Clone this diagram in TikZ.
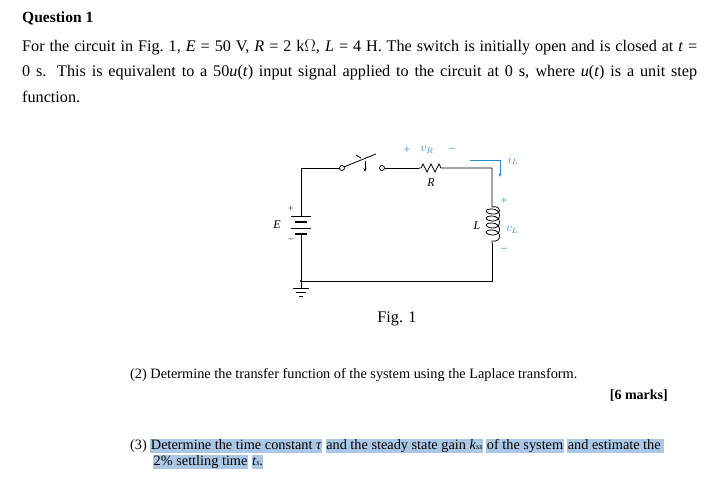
\documentclass[tikz,border=0pt]{standalone}
\usepackage{fontspec}
\setmainfont{Liberation Serif}
\usetikzlibrary{arrows.meta,calc}
\definecolor{blu}{RGB}{40,140,200}
\definecolor{hl}{RGB}{170,200,230}
\newcommand{\hlb}[1]{{\setlength{\fboxsep}{0.5pt}\colorbox{hl}{\rule[-3pt]{0pt}{13pt}#1}}}
\begin{document}
\begin{tikzpicture}[x=1pt,y=-1pt,
  txt/.style={anchor=north west,inner sep=0pt,font=\fontsize{16.2}{25.5}\selectfont},
  wire/.style={line width=0.8pt},
  lab/.style={font=\fontsize{12}{14}\selectfont\itshape},
  blab/.style={font=\fontsize{12}{14}\selectfont,text=blu}]
\useasboundingbox (0,0) rectangle (718,487);
\fill[white] (0,0) rectangle (718,487);
\node[txt,font=\fontsize{15.5}{18}\bfseries] (q) at (22,12) {Question 1};
\node[txt,text width=675pt,align=justify] (p) at (22,39) {For the circuit in Fig.~1, \textit{E} = 50 V, \textit{R} = 2 k$\Omega$, \textit{L} = 4 H. The switch is initially open and is closed at \textit{t} =\linebreak 0 s. This is equivalent to a 50\textit{u}(\textit{t}) input signal applied to the circuit at 0 s, where \textit{u}(\textit{t}) is a unit step\linebreak function.};
% circuit
\coordinate (tl) at (301,168); \coordinate (tr) at (492,168);
\coordinate (bl) at (301,281); \coordinate (br) at (492,281);
\coordinate (s1) at (342,168); \coordinate (s2) at (382,168);
\coordinate (r1) at (419,168); \coordinate (r2) at (443,168);
\coordinate (b1) at (301,213); \coordinate (b2) at (301,238);
\coordinate (l1) at (492,205); \coordinate (l2) at (492,243);
\draw[wire] (b1) -- (tl) -- ($(s1)+(-2.5,0)$);
\draw[wire] ($(s2)+(2.5,0)$) -- (r1);
\draw[wire] (r1) -- ++(2,0) -- ++(2,-4) -- ++(4,8) -- ++(4,-8) -- ++(4,8) -- ++(4,-8) -- ++(2,4) -- (r2) -- (tr) -- (l1);
\draw[wire] (l2) -- (br) -- (bl) -- (b2);
\draw[wire] (s1) circle (2.5);
\draw[wire] (s2) circle (2.5);
\draw[wire] ($(s1)+(2.2,-1.2)$) -- (376,154);
\draw[wire] (356,155) -- (361,158);
\draw[wire,-{Stealth[length=4pt]}] (365,161) -- (365,172);
% battery
\draw[wire] (b1) -- (301,216);
\draw[line width=1pt] (291,216) -- (311,216);
\draw[line width=1.4pt] (295,222) -- (307,222);
\draw[line width=1pt] (291,228) -- (311,228);
\draw[line width=1.4pt] (295,234) -- (307,234);
\draw[wire] (301,234) -- (b2);
\node[font=\fontsize{9}{9}\selectfont] (bp) at (291,209) {+};
\node[font=\fontsize{9}{9}\selectfont] (bm) at (291,240) {--};
\node[lab] (E) at (277,225) {E};
% inductor
\draw[wire] (l1) -- (492,207)
  .. controls (502,205) and (502,215) .. (492,214)
  .. controls (484,213) and (484,209) .. (492,209)
  .. controls (502,209) and (502,222) .. (492,221)
  .. controls (484,220) and (484,216) .. (492,216)
  .. controls (502,216) and (502,229) .. (492,228)
  .. controls (484,227) and (484,223) .. (492,223)
  .. controls (502,223) and (502,236) .. (492,235)
  .. controls (484,234) and (484,230) .. (492,230)
  .. controls (502,230) and (502,243) .. (492,241) -- (l2);
\node[lab] (L) at (477,226) {L};
\node[lab] (R) at (431,183) {R};
\node[blab] (vp) at (407,150) {+};
\node[blab] (vr) at (427,150) {$v_R$};
\node[blab] (vm) at (452,150) {--};
\node[blab] (ip) at (504,201) {+};
\node[blab] (vl) at (512,230) {$v_L$};
\node[blab] (im) at (504,250) {--};
\node[blab] (il) at (513,160) {$i_L$};
\draw[blu,line width=0.6pt,-{Stealth[length=4pt]}] (470,160) -- (500,160) -- (500,177);
% ground
\fill (bl) circle (1.2);
\draw[wire] (bl) -- (301,288);
\draw[line width=1pt] (293,288) -- (309,288);
\draw[line width=1pt] (296,292) -- (306,292);
\draw[line width=1pt] (299,296) -- (303,296);
\node[txt,anchor=north] (fig) at (397,312) {Fig. 1};
\node[txt,font=\fontsize{14.3}{16}\selectfont] (t2) at (130,368) {(2) Determine the transfer function of the system using the Laplace transform.};
\node[txt,anchor=north east,font=\fontsize{14}{16}\bfseries] (m) at (668,390) {[6 marks]};
\node[txt,font=\fontsize{14.3}{16}\selectfont] (t3) at (130,439) {(3) \hlb{Determine the time constant \textit{τ}} \hlb{and the steady state gain \textit{k}{\fontsize{8}{8}\selectfont\textit{ss}}} \hlb{of the system} \hlb{and estimate the\,}};
\node[txt,font=\fontsize{14.3}{16}\selectfont] (t3b) at (153,455) {\hlb{2\% settling time} \hlb{\textit{t}{\fontsize{8}{8}\selectfont\textit{s}}.}};
\end{tikzpicture}
\end{document}
